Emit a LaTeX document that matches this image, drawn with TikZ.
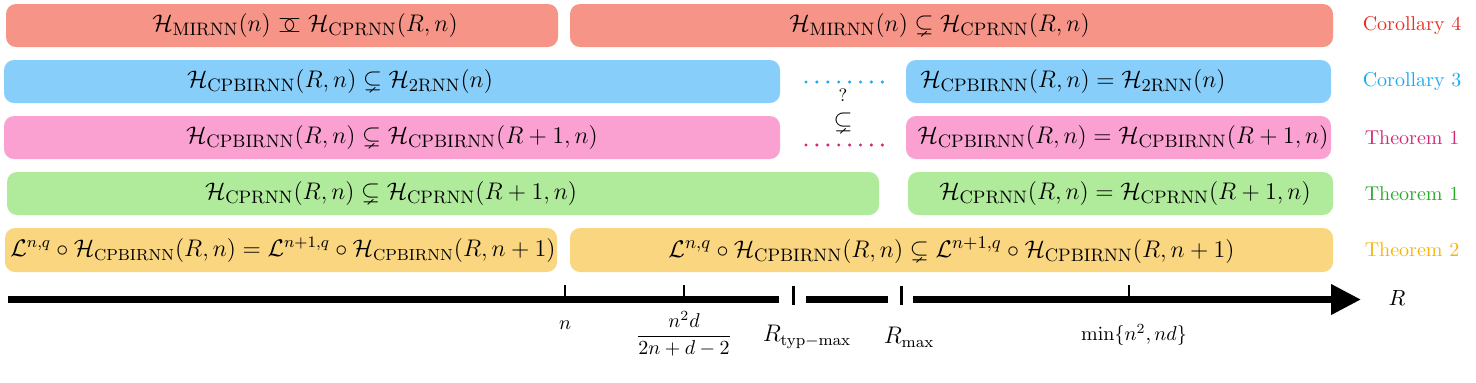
\documentclass[tikz,border=0pt]{standalone}
\usepackage{amsmath,amssymb}
\usetikzlibrary{arrows.meta,fit}
\definecolor{bred}{RGB}{246,148,136}
\definecolor{bblue}{RGB}{135,207,250}
\definecolor{bpink}{RGB}{250,161,210}
\definecolor{bgreen}{RGB}{176,234,155}
\definecolor{byellow}{RGB}{251,214,128}
\definecolor{tred}{RGB}{232,45,35}
\definecolor{tblue}{RGB}{25,170,240}
\definecolor{tpink}{RGB}{210,40,120}
\definecolor{tgreen}{RGB}{40,170,40}
\definecolor{tyellow}{RGB}{250,180,0}
\newcommand{\HH}[1]{\mathcal{H}_{\mathrm{#1}}}
\newcommand{\mathsz}{\fontsize{12.2}{14}\selectfont}
\newcommand{\mathsm}{\fontsize{11.5}{14}\selectfont}
\begin{document}
\begin{tikzpicture}[x=0.5pt,y=-0.5pt,
  box/.style={rounded corners=5pt, inner sep=0pt, draw=none},
  mtext/.style={inner sep=0pt, font=\mathsz},
  lab/.style={inner sep=0pt, font=\normalsize},
  axis/.style={line width=3.5pt},
  tick/.style={line width=1pt},
  sep/.style={line width=1.5pt},
  dots/.style={line width=1.7pt, line cap=round, dash pattern=on 0pt off 5.45pt}]
\useasboundingbox (0,0) rectangle (1476,382);
% row 1
\node[box, fill=bred, fit={(6,4) (558,47)}] (r1l) {};
\node[box, fill=bred, fit={(570,4) (1333,47)}] (r1r) {};
\node[mtext] (t1l) at (305,25.5) {$\HH{MIRNN}(n)\mathrel{\supset\mkern-10mu\subset}\HH{CPRNN}(R,n)$};
\node[mtext] (t1r) at (939.5,25.5) {$\HH{MIRNN}(n)\subsetneq\HH{CPRNN}(R,n)$};
\node[lab, text=tred] (l1) at (1412,25.5) {Corollary 4};
% row 2
\node[box, fill=bblue, fit={(4,60) (780,103)}] (r2l) {};
\node[box, fill=bblue, fit={(906,60) (1331,103)}] (r2r) {};
\node[mtext] (t2l) at (340,81.5) {$\HH{CPBIRNN}(R,n)\subsetneq\HH{2RNN}(n)$};
\node[mtext] (t2r) at (1073,81.5) {$\HH{CPBIRNN}(R,n)=\HH{2RNN}(n)$};
\node[lab, text=tblue] (l2) at (1412,81.5) {Corollary 3};
% row 3
\node[box, fill=bpink, fit={(4,116) (780,159)}] (r3l) {};
\node[box, fill=bpink, fit={(906,116) (1331,159)}] (r3r) {};
\node[mtext] (t3l) at (392,137.5) {$\HH{CPBIRNN}(R,n)\subsetneq\HH{CPBIRNN}(R+1,n)$};
\node[mtext] (t3r) at (1123,137.5) {$\HH{CPBIRNN}(R,n)=\HH{CPBIRNN}(R+1,n)$};
\node[lab, text=tpink] (l3) at (1412,137.5) {Theorem 1};
% row 4
\node[box, fill=bgreen, fit={(7,172) (879,215)}] (r4l) {};
\node[box, fill=bgreen, fit={(908,172) (1333,215)}] (r4r) {};
\node[mtext] (t4l) at (391,193.5) {$\HH{CPRNN}(R,n)\subsetneq\HH{CPRNN}(R+1,n)$};
\node[mtext] (t4r) at (1125,193.5) {$\HH{CPRNN}(R,n)=\HH{CPRNN}(R+1,n)$};
\node[lab, text=tgreen] (l4) at (1412,193.5) {Theorem 1};
% row 5
\node[box, fill=byellow, fit={(5,228) (557,272)}] (r5l) {};
\node[box, fill=byellow, fit={(570,228) (1333,272)}] (r5r) {};
\node[mtext, font=\mathsm] (t5l) at (283,250) {$\mathcal{L}^{n,q}\circ\HH{CPBIRNN}(R,n)=\mathcal{L}^{n+1,q}\circ\HH{CPBIRNN}(R,n+1)$};
\node[mtext] (t5r) at (951.5,250) {$\mathcal{L}^{n,q}\circ\HH{CPBIRNN}(R,n)\subsetneq\mathcal{L}^{n+1,q}\circ\HH{CPBIRNN}(R,n+1)$};
\node[lab, text=tyellow] (l5) at (1412,250) {Theorem 2};
% dotted lines and question
\coordinate (d2a) at (806,82); \coordinate (d2b) at (890,82);
\coordinate (d3a) at (806,145); \coordinate (d3b) at (890,145);
\draw[dots, draw=tblue] (d2a) -- (d2b);
\draw[dots, draw=tpink] (d3a) -- (d3b);
\node[inner sep=0pt, font=\small] (q1) at (843,95) {?};
\node[mtext] (q2) at (843,122) {$\subsetneq$};
% axis
\coordinate (a0) at (8,299.5); \coordinate (a1) at (779,299.5);
\coordinate (a2) at (806,299.5); \coordinate (a3) at (888,299.5);
\coordinate (a4) at (913,299.5); \coordinate (a5) at (1361,299.5);
\draw[axis] (a0) -- (a1);
\draw[axis] (a2) -- (a3);
\draw[axis, -{Triangle[length=15pt,width=14.5pt]}] (a4) -- (a5);
\node[inner sep=0pt, font=\fontsize{11}{13}\selectfont] (Rl) at (1397,298) {$R$};
% ticks
\coordinate (k1) at (565,299); \coordinate (k1t) at (565,285);
\coordinate (k2) at (684,299); \coordinate (k2t) at (684,285);
\coordinate (k5) at (1129,299); \coordinate (k5t) at (1129,285);
\coordinate (k3b) at (793,305); \coordinate (k3t) at (793,286);
\coordinate (k4b) at (901,305); \coordinate (k4t) at (901,286);
\draw[tick] (k1) -- (k1t);
\draw[tick] (k2) -- (k2t);
\draw[tick] (k5) -- (k5t);
\draw[sep] (k3b) -- (k3t);
\draw[sep] (k4b) -- (k4t);
% tick labels
\node[inner sep=0pt] (ln) at (565,325) {$n$};
\node[inner sep=0pt] (lf) at (684,334) {$\dfrac{n^2d}{2n+d-2}$};
\node[inner sep=0pt, font=\fontsize{11.8}{14}\selectfont] (lt) at (807,337) {$R_{\mathrm{typ}-\mathrm{max}}$};
\node[inner sep=0pt, font=\fontsize{11.6}{14}\selectfont] (lm) at (909,337) {$R_{\max}$};
\node[inner sep=0pt] (lmin) at (1134,335) {$\min\{n^2,nd\}$};
\end{tikzpicture}
\end{document}
